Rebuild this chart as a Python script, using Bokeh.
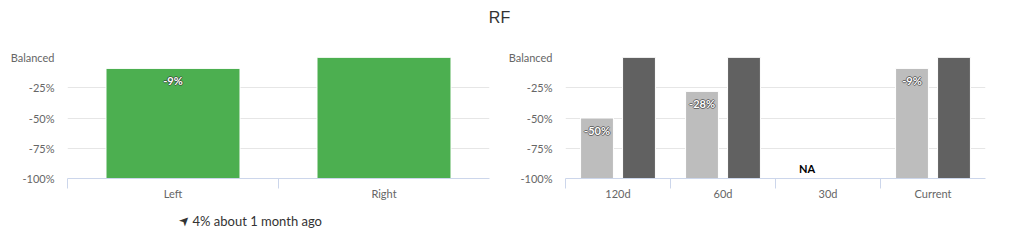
import math
from bokeh.plotting import figure
from bokeh.models import Range1d, FixedTicker, Label, ColumnDataSource
from bokeh.layouts import column, row
from bokeh.core.properties import value
from bokeh.embed import file_html
from bokeh.resources import INLINE

# ---------------- data ----------------
title_text = "RF"
subtitle_icon = "\u27a4"
subtitle_text = "4% about 1 month ago"

y_ticks = [-100, -75, -50, -25, 0]
y_tick_labels = ["-100%", "-75%", "-50%", "-25%", "Balanced"]

left_categories = ["Left", "Right"]
left_values = [-9, 0]
left_labels = ["-9%", ""]

right_categories = ["120d", "60d", "30d", "Current"]
right_light_values = [-50, -28, None, -9]
right_light_labels = ["-50%", "-28%", "NA", "-9%"]
right_dark_values = [0, 0, None, 0]

# ---------------- style ----------------
GREEN = "#4caf50"
LIGHT = "#bdbdbd"
DARK = "#616161"
FONT = "Lato"
LABEL_COLOR = "#666666"
GRID_COLOR = "#e6e6e6"
AXIS_COLOR = "#ccd6eb"
BASE = -100


def blank_fig(width, height):
    f = figure(width=width, height=height, output_backend="svg", toolbar_location=None,
               x_range=Range1d(0, 1), y_range=Range1d(0, 1), tools="", min_border=0)
    f.axis.visible = False
    f.grid.visible = False
    f.outline_line_color = None
    return f


def make_fig(categories, width, height, left, right, bottom):
    n = len(categories)
    p = figure(width=width, height=height, output_backend="svg", toolbar_location=None,
               x_range=Range1d(0, n), y_range=Range1d(-100, 0),
               min_border_left=left, min_border_right=right,
               min_border_top=19, min_border_bottom=bottom, tools="")
    p.outline_line_color = None
    p.background_fill_color = "white"
    p.border_fill_color = "white"
    # y axis
    p.yaxis.ticker = FixedTicker(ticks=y_ticks)
    p.yaxis.major_label_overrides = {t: l for t, l in zip(y_ticks, y_tick_labels)}
    p.yaxis.axis_line_color = None
    p.yaxis.major_tick_line_color = None
    p.yaxis.minor_tick_line_color = None
    p.yaxis.major_tick_out = 0
    p.yaxis.major_tick_in = 0
    p.yaxis.major_label_standoff = 13
    p.yaxis.major_label_text_font = FONT
    p.yaxis.major_label_text_font_size = "11px"
    p.yaxis.major_label_text_color = LABEL_COLOR
    p.ygrid.ticker = FixedTicker(ticks=y_ticks)
    p.ygrid.grid_line_color = GRID_COLOR
    p.xgrid.grid_line_color = None
    # x axis
    centers = [i + 0.5 for i in range(n)]
    p.xaxis.ticker = FixedTicker(ticks=centers, minor_ticks=list(range(n)))
    p.xaxis.major_label_overrides = {c: cat for c, cat in zip(centers, categories)}
    p.xaxis.axis_line_color = AXIS_COLOR
    p.xaxis.major_tick_line_color = None
    p.xaxis.major_tick_out = 0
    p.xaxis.major_tick_in = 0
    p.xaxis.minor_tick_line_color = AXIS_COLOR
    p.xaxis.minor_tick_out = 10
    p.xaxis.minor_tick_in = 0
    p.xaxis.major_label_standoff = -2
    p.xaxis.major_label_text_font = FONT
    p.xaxis.major_label_text_font_size = "11px"
    p.xaxis.major_label_text_color = LABEL_COLOR
    return p


def add_labels(p, xs, ys, texts, inside):
    src = ColumnDataSource(dict(x=xs, y=ys, text=texts))
    common = dict(x="x", y="y", text="text", source=src, text_align="center",
                  text_baseline="middle", text_font=value(FONT), text_font_style="bold",
                  text_font_size="11px")
    if inside:
        for dx, dy in [(-1, 0), (1, 0), (0, -1), (0, 1)]:
            p.text(x_offset=dx, y_offset=12 + dy, text_color="#333333", text_alpha=0.6,
                   **common)
        p.text(y_offset=12, text_color="white", **common)
    else:
        p.text(y_offset=-10, text_color="#000000", **common)


# ---------------- title ----------------
pt = blank_fig(1024, 38)
pt.add_layout(Label(x=499, y=21, x_units="screen", y_units="screen", text=title_text,
                    text_font="Liberation Sans", text_font_size="16px", text_color="#333333",
                    text_align="center", text_baseline="middle"))

# ---------------- left chart ----------------
pl = make_fig(left_categories, 505, 164, 67, 16, 24)
lx = [i + 0.5 for i in range(len(left_categories))]
pl.vbar(x=lx, top=left_values, bottom=BASE, width=0.635, fill_color=GREEN,
        line_color="white", line_width=1)
lab = [(x, v, t) for x, v, t in zip(lx, left_values, left_labels) if t]
add_labels(pl, [a[0] for a in lab], [a[1] for a in lab], [a[2] for a in lab], True)

# subtitle under the left chart (its frame is aligned with the chart frame above)
ps = blank_fig(505, 39)
ps.add_layout(Label(x=117, y=21, x_units="screen", y_units="screen", text=subtitle_icon,
                    text_font="DejaVu Sans", text_font_size="13px", text_color="#333333",
                    text_align="center", text_baseline="middle", angle=math.pi / 4))
ps.add_layout(Label(x=125, y=21, x_units="screen", y_units="screen", text=subtitle_text,
                    text_font=FONT, text_font_size="13px", text_color="#333333",
                    text_align="left", text_baseline="middle"))

# ---------------- right chart ----------------
pr = make_fig(right_categories, 519, 203, 58, 39, 63)
n = len(right_categories)
light_x = [i + 0.3 for i in range(n)]
dark_x = [i + 0.7 for i in range(n)]
lv = [(x, v) for x, v in zip(light_x, right_light_values) if v is not None]
pr.vbar(x=[a[0] for a in lv], top=[a[1] for a in lv], bottom=BASE, width=0.313,
        fill_color=LIGHT, line_color="white", line_width=1)
dv = [(x, v) for x, v in zip(dark_x, right_dark_values) if v is not None]
pr.vbar(x=[a[0] for a in dv], top=[a[1] for a in dv], bottom=BASE, width=0.313,
        fill_color=DARK, line_color="white", line_width=1)
ins = [(x, v, t) for x, v, t in zip(light_x, right_light_values, right_light_labels) if v is not None]
add_labels(pr, [a[0] for a in ins], [a[1] for a in ins], [a[2] for a in ins], True)
outs = [(x, BASE, t) for x, v, t in zip(light_x, right_light_values, right_light_labels) if v is None]
add_labels(pr, [a[0] for a in outs], [a[1] for a in outs], [a[2] for a in outs], False)

layout = column(pt, row(column(pl, ps, spacing=0), pr, spacing=0), spacing=0)
open("out.html", "w").write(file_html(layout, INLINE))
